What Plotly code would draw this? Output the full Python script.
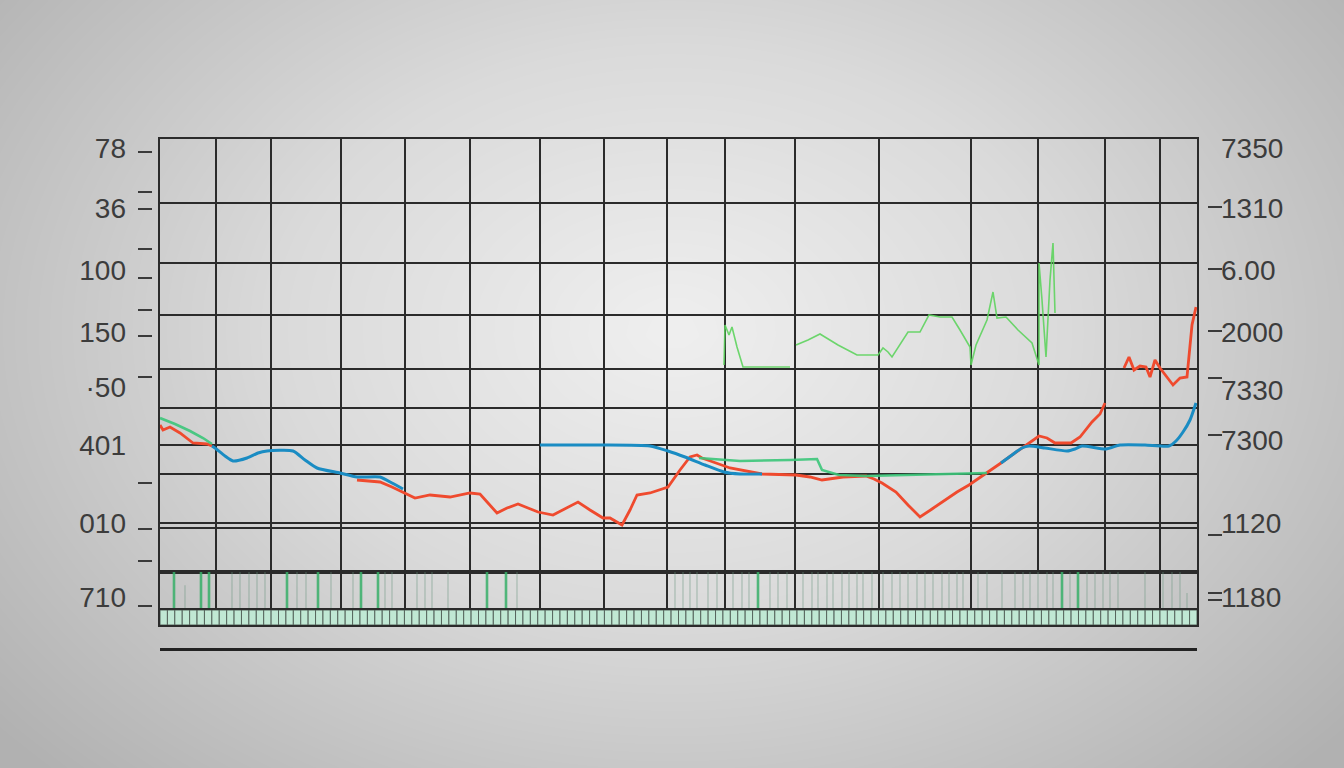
import numpy as np
import plotly.graph_objects as go

W, H = 1344, 768

# ---------------- data ----------------
# main panel: x = time units (0..1037), y = value units (0..433)
blue_x = [52, 55, 65, 73, 87, 98, 107, 133, 145, 157, 180, 197, 220, 232, 243, None,
          380, 440, 490, 508, 525, 545, 564, 580, 602, None,
          841, 852, 862, 869, 885, 907, 915, 922, 946, 960, 985, 1009, 1016, 1023, 1030, 1036]
blue_y = [126, 124, 116, 111, 114, 119, 121, 121, 112, 104, 99, 95, 95, 89, 83, None,
          127, 127, 126, 121, 115, 107, 100, 98, 98, None,
          109, 117, 124, 126, 124, 121, 123, 126, 123, 127, 127, 126, 131, 140, 152, 169]

red_x = [0, 3, 10, 20, 33, 47, 52, None,
         197, 220, 232, 243, 255, 270, 290, 310, 320, 328,
         337, 347, 358, 368, 378, 393, 406, 418, 430, 443,
         450, 462, 470, 477, 490, 500, 508, 520, 530, 537,
         542, 570, 602, 636, 650, 662, 683, 706, 714, 722,
         736, 748, 760, 772, 785, 797, 809, 827, 841, 852,
         862, 870, 879, 887, 895, 911, 920, 932, 940, 945, None,
         964, 969, 974, 980, 986, 990, 995, 1000, 1013, 1020, 1027, 1032, 1036]
red_y = [147, 142, 145, 139, 129, 128, 126, None,
         92, 90, 85, 80, 74, 77, 75, 79, 78, 69,
         59, 64, 68, 64, 60, 57, 64, 70, 62, 54,
         54, 47, 62, 77, 79, 82, 85, 102, 115, 117,
         114, 104, 98, 97, 95, 92, 95, 96, 93, 89,
         80, 67, 55, 63, 72, 80, 87, 99, 109, 117,
         124, 130, 136, 134, 129, 129, 135, 150, 158, 169, None,
         204, 215, 202, 206, 205, 195, 212, 204, 187, 194, 195, 247, 265]

green_hi_x = [564, 565, 569, 572, 577, 583, 600, 630, None,
              636, 648, 660, 678, 697, 710, 718, 723, 728, 732, 740, 748, 760, 765, 769,
              780, 792, 800, 806, 810, 811, 816, 827, 833, 837, 846, 858, 872, 879, 879,
              882, 886, 890, 893, 895]
green_hi_y = [207, 247, 237, 245, 225, 205, 205, 205, None,
              227, 232, 238, 227, 217, 217, 217, 224, 220, 215, 228, 240, 240, 250, 257,
              255, 255, 242, 232, 225, 207, 227, 252, 280, 254, 255, 242, 229, 207, 309,
              272, 215, 292, 329, 259]

green_lo_x = [0, 15, 30, 43, 52, None, 539, 580, 630, 657, 662, 679, 706, 827]
green_lo_y = [154, 148, 141, 134, 128, None, 114, 111, 112, 113, 102, 97, 96, 99]

# volume strip: tick positions, relative heights, strong (1) / faint (0)
vol_x = [14, 41, 49, 127, 158, 201, 218, 327, 346, 598, 902, 918,
         25, 72, 80, 89, 97, 105, 137, 146, 171, 193, 225, 232, 257, 265, 272, 288, 357,
         515, 523, 530, 537, 548, 557, 573, 582, 589, 610, 618, 627, 643, 652, 658, 667,
         673, 682, 689, 697, 703, 712, 723, 732, 740, 748, 757, 765, 773, 782, 789, 797,
         803, 818, 827, 842, 855, 863, 870, 878, 887, 893, 910, 927, 935, 943, 950, 958,
         985, 1003, 1012, 1020, 1027]
vol_h = [1] * 12 + [0.65] + [1] * 68 + [0.45] + [1] * 4
vol_h = vol_h[:len(vol_x)]
vol_strong = [1] * 12 + [0] * (len(vol_x) - 12)

# bottom ribbon cells
strip_cells = list(range(140))

# axis texts
left_labels = ["78", "36", "100", "150", "·50", "401", "010", "710"]
right_labels = ["7350", "1310", "6.00", "2000", "7330", "7300", "1120", "1180"]

# ---------------- layout config ----------------
grid_x = [0, 56, 111, 181, 245, 310, 380, 444, 507, 565, 635, 719, 811, 878, 945, 1000, 1037]
grid_x_vol = [0, 56, 111, 181, 245, 310, 380, 444, 507, 565, 635, 719, 811, 1000, 1037]
grid_y = [0, 44, 49, 98, 127, 164, 203, 257, 309, 369, 433]

left_label_pos = [148, 208, 270, 332, 387, 445, 523, 597]
left_dash_pos = [152, 192, 209, 249, 278, 310, 336, 377, 483, 529, 561, 606]
right_label_pos = [148, 208, 270, 332, 390, 440, 523, 597]
right_dash_pos = [207, 269, 331, 378, 435, 535, 593, 600]

X0, X1 = 160 / W, 1197 / W
def py(p):
    return 1 - p / H

# ---------------- background gradient ----------------
gx = np.linspace(0, 1, 60)
gy = np.linspace(0, 1, 40)
GX, GY = np.meshgrid(gx, gy)
D = np.sqrt(((GX - 0.5) / 0.62) ** 2 + ((GY - 0.57) / 0.78) ** 2)

fig = go.Figure()
fig.add_trace(go.Heatmap(x=gx, y=gy, z=D, zmin=0, zmax=1.05, zsmooth="best",
                         colorscale=[[0, "#efefef"], [0.45, "#dadada"], [1, "#b1b1b1"]],
                         showscale=False, hoverinfo="skip", xaxis="x", yaxis="y"))

line_common = dict(xaxis="x2", yaxis="y2", mode="lines", hoverinfo="skip")
fig.add_trace(go.Scatter(x=red_x, y=red_y, line=dict(color="#ef4a2e", width=2.8), **line_common))
fig.add_trace(go.Scatter(x=blue_x, y=blue_y, line=dict(color="#1a8cc3", width=3, shape="spline", smoothing=0.6), **line_common))
fig.add_trace(go.Scatter(x=green_lo_x, y=green_lo_y, line=dict(color="#3cc77a", width=2.6), opacity=0.9, **line_common))
fig.add_trace(go.Scatter(x=green_hi_x, y=green_hi_y, line=dict(color="#5fd45f", width=1.6), opacity=0.9, **line_common))

vol_colors = ["rgba(55,175,105,0.85)" if s else "rgba(105,150,125,0.35)" for s in vol_strong]
vol_w = [2.6 if s else 1.6 for s in vol_strong]
fig.add_trace(go.Bar(x=vol_x, y=vol_h, width=vol_w, marker=dict(color=vol_colors, line=dict(width=0)),
                     xaxis="x3", yaxis="y3", hoverinfo="skip"))

fig.add_trace(go.Bar(x=[c + 0.5 for c in strip_cells], y=[1] * len(strip_cells), width=1,
                     marker=dict(color="#c0e8d4", line=dict(color="#56655d", width=1)),
                     xaxis="x4", yaxis="y4", hoverinfo="skip"))

for ya in ["y6", "y7", "y8", "y9"]:
    fig.add_trace(go.Scatter(x=[None], y=[None], xaxis="x6", yaxis=ya, hoverinfo="skip", mode="markers"))
fig.add_trace(go.Scatter(x=[None], y=[None], xaxis="x5", yaxis="y4", hoverinfo="skip", mode="markers"))

LC = "#2b2b2b"
hidden = dict(visible=False, showgrid=False, zeroline=False, fixedrange=True)
fig.update_layout(
    width=W, height=H, margin=dict(l=0, r=0, t=0, b=0),
    paper_bgcolor="#c9c9c9", plot_bgcolor="rgba(0,0,0,0)",
    showlegend=False, barmode="overlay",
    font=dict(family="Liberation Sans, Arial, sans-serif", color="#3a3a3a"),
    xaxis=dict(domain=[0, 1], range=[0, 1], anchor="y", **hidden),
    yaxis=dict(domain=[0, 1], range=[0, 1], anchor="x", **hidden),
    xaxis2=dict(domain=[X0, X1], range=[0, 1037], anchor="y2", tickvals=grid_x, showticklabels=False,
                ticks="", showgrid=True, gridcolor=LC, gridwidth=1.6, zeroline=False,
                showline=True, mirror=True, linecolor=LC, linewidth=2),
    yaxis2=dict(domain=[py(572), py(139)], range=[0, 433], anchor="x2", tickvals=grid_y, showticklabels=False,
                ticks="", showgrid=True, gridcolor=LC, gridwidth=1.6, zeroline=False,
                showline=True, mirror=True, linecolor=LC, linewidth=2),
    xaxis3=dict(domain=[X0, X1], range=[0, 1037], anchor="y3", tickvals=grid_x_vol, showticklabels=False,
                ticks="", showgrid=True, gridcolor=LC, gridwidth=1.6, zeroline=False,
                showline=True, mirror=True, linecolor=LC, linewidth=2.2),
    yaxis3=dict(domain=[py(610), py(572)], range=[0, 1], anchor="x3", showticklabels=False, ticks="",
                showgrid=False, zeroline=False, showline=True, mirror=True, linecolor=LC, linewidth=2),
    xaxis4=dict(domain=[X0, X1], range=[0, 140], anchor="y4", showticklabels=False, ticks="",
                showgrid=False, zeroline=False, showline=True, mirror=True, linecolor=LC, linewidth=2.2),
    yaxis4=dict(domain=[py(625), py(610)], range=[0, 1], anchor="x4", showticklabels=False, ticks="",
                showgrid=False, zeroline=False, showline=True, mirror=True, linecolor=LC, linewidth=2),
    xaxis5=dict(overlaying="x4", anchor="free", position=py(649), range=[0, 1], showticklabels=False,
                ticks="", showgrid=False, zeroline=False, showline=True, linecolor="#222222", linewidth=2.6),
    xaxis6=dict(domain=[X0, X1], range=[0, 1], anchor="y6", **hidden),
    yaxis6=dict(domain=[0, 1], range=[H, 0], anchor="free", position=152 / W, side="left",
                tickvals=left_dash_pos, ticks="outside", ticklen=14, tickwidth=1.6, tickcolor="#3a3a3a",
                showticklabels=False, showgrid=False, zeroline=False, showline=False),
    yaxis7=dict(overlaying="y6", range=[H, 0], anchor="free", position=126 / W, side="left",
                tickvals=left_label_pos, ticktext=left_labels, ticks="",
                tickfont=dict(size=28, color="#3c3c3c"),
                showgrid=False, zeroline=False, showline=False),
    yaxis8=dict(overlaying="y6", range=[H, 0], anchor="free", position=1207 / W, side="right",
                tickvals=right_dash_pos, ticks="outside", ticklen=14, tickwidth=1.6, tickcolor="#3a3a3a",
                showticklabels=False, showgrid=False, zeroline=False, showline=False),
    yaxis9=dict(overlaying="y6", range=[H, 0], anchor="free", position=1220 / W, side="right",
                tickvals=right_label_pos, ticktext=right_labels, ticks="",
                tickfont=dict(size=28, color="#3c3c3c"),
                showgrid=False, zeroline=False, showline=False),
)

fig.write_html("out.html", config={"displayModeBar": False},
               post_script="document.body.style.margin='0px';")
